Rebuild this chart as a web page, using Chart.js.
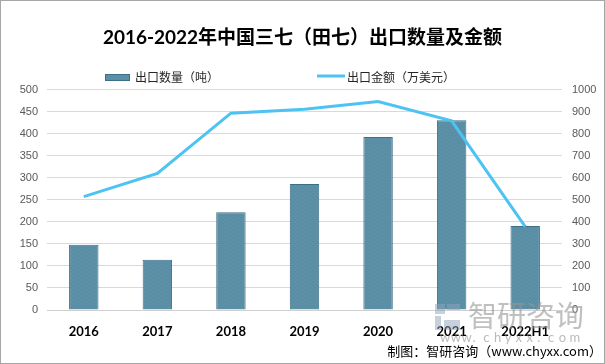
<!DOCTYPE html>
<html>
<head>
<meta charset="utf-8">
<script src="https://cdn.jsdelivr.net/npm/chart.js@4.4.1/dist/chart.umd.min.js"></script>
<style>
  html, body { margin: 0; padding: 0; background: #fff; }
  #wrap { width: 605px; height: 364px; box-sizing: border-box; border: 1px solid #a6a6a6; }
  canvas { display: block; }
</style>
</head>
<body>
<div id="wrap"><canvas id="chart" width="603" height="362"></canvas></div>
<script>
// data
const years = ['2016', '2017', '2018', '2019', '2020', '2021', '2022H1'];
const exportTons = [148, 114, 222, 286, 393, 431, 191];
const exportValue = [515, 620, 894, 912, 947, 859, 379];
const tonTicks = [0, 50, 100, 150, 200, 250, 300, 350, 400, 450, 500];
const valueTicks = [0, 100, 200, 300, 400, 500, 600, 700, 800, 900, 1000];

const CJK = "'Noto Sans CJK SC'";
const BAR_COLOR = '#5b8fa6';
const BAR_BORDER = '#3d6f88';
const LINE_COLOR = '#4dc3f3';

// fine dotted fill like the original bars
function barPattern() {
    const c = document.createElement('canvas');
    c.width = 4;
    c.height = 4;
    const g = c.getContext('2d');
    g.fillStyle = BAR_COLOR;
    g.fillRect(0, 0, 4, 4);
    g.fillStyle = '#5587a0';
    g.fillRect(0, 0, 1, 1);
    g.fillRect(2, 2, 1, 1);
    g.fillStyle = '#6295ac';
    g.fillRect(2, 1, 1, 1);
    g.fillRect(0, 3, 1, 1);
    return g.createPattern(c, 'repeat');
}

// legend, source line and watermark
const extras = {
    id: 'extras',
    afterDraw(chart) {
        const ctx = chart.ctx;
        const bars = chart.data.datasets.find(d => d.type === 'bar');
        const line = chart.data.datasets.find(d => d.type === 'line');
        ctx.save();
        ctx.textBaseline = 'middle';
        ctx.textAlign = 'left';
        ctx.font = '12px ' + CJK;

        // legend: bars
        ctx.fillStyle = BAR_COLOR;
        ctx.fillRect(104, 73, 25, 7);
        ctx.strokeStyle = BAR_BORDER;
        ctx.lineWidth = 1;
        ctx.strokeRect(104.5, 73.5, 24, 6);
        ctx.fillStyle = '#262626';
        ctx.fillText(bars.label, 134, 76);

        // legend: line
        ctx.strokeStyle = LINE_COLOR;
        ctx.lineWidth = 3;
        ctx.beginPath();
        ctx.moveTo(316, 75);
        ctx.lineTo(344, 75);
        ctx.stroke();
        ctx.fillText(line.label, 346, 76);

        // watermark
        ctx.globalAlpha = 0.5;
        ctx.fillStyle = '#8fa3b8';
        ctx.fillRect(434, 303, 10, 10);
        ctx.fillRect(446, 303, 13, 6);
        ctx.fillRect(434, 315, 6, 14);
        ctx.fillRect(443, 319, 16, 10);
        ctx.globalAlpha = 1;
        ctx.fillStyle = 'rgba(150,150,150,0.6)';
        ctx.font = '29px ' + CJK;
        ctx.fillText('智研咨询', 467, 315);
        ctx.font = '13px Lato';
        ctx.fillStyle = 'rgba(140,140,140,0.6)';
        const url = 'www.chyxx.com';
        for (let i = 0; i < url.length; i++) {
            ctx.fillText(url[i], 439 + i * 10.8, 337);
        }

        // source
        ctx.fillStyle = '#000';
        ctx.textAlign = 'right';
        ctx.font = '13px ' + CJK;
        ctx.fillText('制图：智研咨询（www.chyxx.com）', 601, 350);
        ctx.restore();
    }
};

const ctx = document.getElementById('chart').getContext('2d');
const chart = new Chart(ctx, {
    data: {
        labels: years,
        datasets: [{
            type: 'line',
            label: '出口金额（万美元）',
            data: exportValue,
            yAxisID: 'y1',
            borderColor: LINE_COLOR,
            borderWidth: 3,
            pointRadius: 0,
            tension: 0,
            order: 0
        }, {
            type: 'bar',
            label: '出口数量（吨）',
            data: exportTons,
            yAxisID: 'y',
            backgroundColor: barPattern(),
            borderColor: BAR_BORDER,
            borderWidth: 1,
            categoryPercentage: 0.8,
            barPercentage: 0.5,
            order: 1
        }]
    },
    options: {
        responsive: false,
        animation: false,
        layout: { padding: 0 },
        plugins: {
            legend: { display: false },
            tooltip: { enabled: false },
            title: {
                display: true,
                text: '2016-2022年中国三七（田七）出口数量及金额',
                color: '#000',
                font: { family: 'Lato, ' + CJK, size: 19, weight: 'bold' },
                padding: { top: 25, bottom: 41 }
            }
        },
        scales: {
            x: {
                grid: { display: false },
                border: { color: '#d0d0d0' },
                ticks: {
                    color: '#000',
                    padding: 6,
                    font: { family: 'Lato', size: 13, weight: 'bold' }
                },
                afterFit(scale) { scale.height = 53; }
            },
            y: {
                position: 'left',
                min: 0,
                max: 500,
                afterBuildTicks(scale) { scale.ticks = tonTicks.map(v => ({ value: v })); },
                grid: { color: '#d9d9d9', drawTicks: false },
                border: { display: false },
                ticks: {
                    color: '#595959',
                    padding: 9,
                    callback: v => String(v),
                    font: { family: "'Liberation Sans'", size: 11 }
                },
                afterFit(scale) { scale.width = 46; }
            },
            y1: {
                position: 'right',
                min: 0,
                max: 1000,
                afterBuildTicks(scale) { scale.ticks = valueTicks.map(v => ({ value: v })); },
                grid: { display: false, drawTicks: false },
                border: { display: false },
                ticks: {
                    color: '#595959',
                    padding: 10,
                    callback: v => String(v),
                    font: { family: "'Liberation Sans'", size: 11 }
                },
                afterFit(scale) { scale.width = 42; }
            }
        }
    },
    plugins: [extras]
});
</script>
</body>
</html>
